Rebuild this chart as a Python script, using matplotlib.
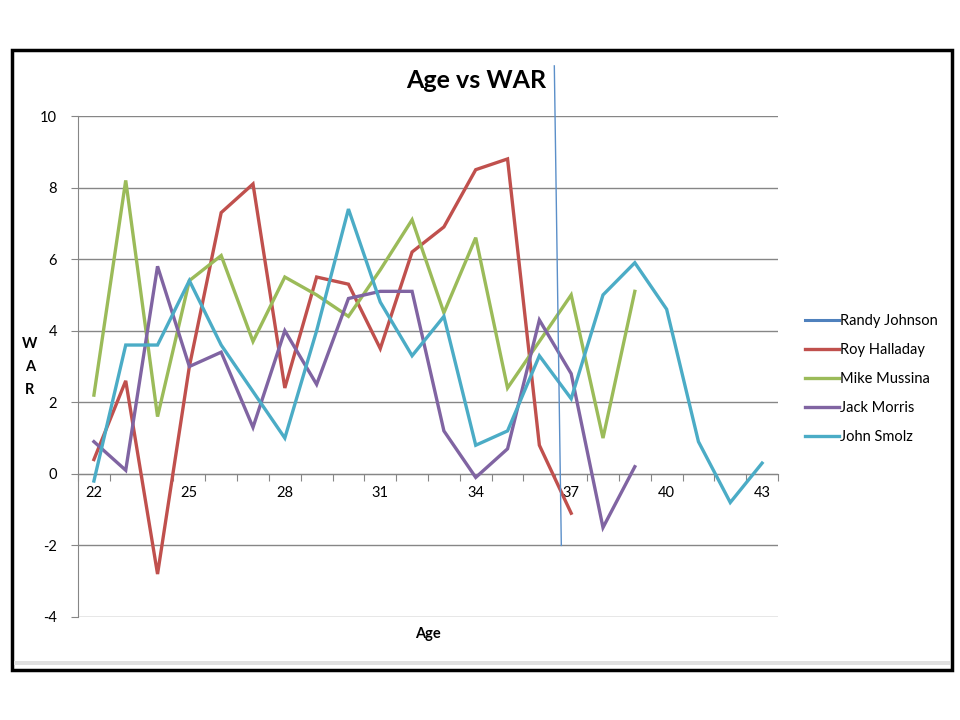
#!/usr/bin/env python

# plot.py
# Age vs WAR line chart, Excel style, five pitchers

import numpy as np
import matplotlib.pyplot as plt
from matplotlib.patches import Rectangle

# ages on the category axis
ages = list(range(22, 44))

# WAR by age (series stop where the career stops)
halladay = [0.4, 2.6, -2.8, 3.0, 7.3, 8.1, 2.4, 5.5, 5.3, 3.5, 6.2, 6.9, 8.5, 8.8, 0.8, -1.1]
mussina = [2.2, 8.2, 1.6, 5.4, 6.1, 3.7, 5.5, 5.0, 4.4, 5.7, 7.1, 4.5, 6.6, 2.4, 3.7, 5.0, 1.0, 5.1]
morris = [0.9, 0.1, 5.8, 3.0, 3.4, 1.3, 4.0, 2.5, 4.9, 5.1, 5.1, 1.2, -0.1, 0.7, 4.3, 2.8, -1.5, 0.2]
smoltz = [-0.2, 3.6, 3.6, 5.4, 3.6, 2.3, 1.0, 4.0, 7.4, 4.8, 3.3, 4.4, 0.8, 1.2, 3.3, 2.1, 5.0, 5.9,
          4.6, 0.9, -0.8, 0.3]

# the stray Randy Johnson series: one thin near-vertical stroke
rj_age = [36.47, 36.69]
rj_war = [11.4, -2.0]

names = ["Randy Johnson", "Roy Halladay", "Mike Mussina", "Jack Morris", "John Smolz"]
colors = ["#4F81BD", "#C0504D", "#9BBB59", "#8064A2", "#4BACC6"]

xticks_lab = [22, 25, 28, 31, 34, 37, 40, 43]
yticks = [-4, -2, 0, 2, 4, 6, 8, 10]

plt.rcParams['font.family'] = ['Lato', 'DejaVu Sans']
gray = "#868686"

fig = plt.figure(figsize=(9.6, 7.2), dpi=100)
ax = fig.add_axes([78/960, 1-617/720, 700/960, 501/720])

# the Randy Johnson stroke, runs past the top of the plot area
ax.plot(rj_age, rj_war, color="#5B8FC9", lw=1, clip_on=False, zorder=4)
ax.plot([], [], color=colors[0], lw=2.2, label=names[0])

series = [halladay, mussina, morris, smoltz]
for vals, name, col in zip(series, names[1:], colors[1:]):
    ax.plot(ages[:len(vals)], vals, color=col, lw=2.4, label=name, zorder=3,
            solid_joinstyle='miter')

ax.set_xlim(21.5, 43.5)
ax.set_ylim(-4, 10)
ax.set_yticks(yticks)
ax.set_yticklabels([str(v) for v in yticks], fontsize=10.5)
ax.grid(axis='y', color=gray, lw=1)
ax.set_axisbelow(True)

# category axis crosses at zero
for s in ['top', 'right']:
    ax.spines[s].set_visible(False)
ax.spines['bottom'].set_position(('data', 0))
ax.spines['bottom'].set_color(gray)
ax.spines['left'].set_color(gray)
ax.set_xticks(np.arange(21.5, 44.0, 1.0))
ax.set_xticklabels([])
ax.tick_params(axis='x', which='major', direction='out', length=5, color=gray)
ax.set_xticks(xticks_lab, minor=True)
ax.set_xticklabels([str(a) for a in xticks_lab], minor=True, fontsize=10.5)
ax.tick_params(axis='x', which='minor', length=0, pad=9)
ax.tick_params(axis='y', direction='out', length=5, color=gray, pad=10)

ax.set_xlabel("Age", fontsize=10.5, fontweight='bold', labelpad=0)
ax.xaxis.set_label_coords(0.5, -0.02)
fig.text(30/960, 1-367/720, "W\nA\nR", fontsize=10.5, fontweight='bold',
         ha='center', va='center', linespacing=1.8)
fig.text(476/960, 1-80/720, "Age vs WAR", fontsize=18, fontweight='bold',
         ha='center', va='center')

fig.legend(loc='center left', bbox_to_anchor=(792/960, 1-379/720), frameon=False,
           fontsize=10.5, handlelength=2.3, handletextpad=0.1, labelspacing=1.02)

# black frame around the chart and the grey strip at its foot
fig.patches.append(Rectangle((12/960, 1-670/720), 940/960, 620/720, transform=fig.transFigure,
                             fill=False, ec='black', lw=2.5))
fig.patches.append(Rectangle((14/960, 1-665/720), 936/960, 4/720, transform=fig.transFigure,
                             fc='#e0e0e0', ec='none'))

fig.savefig("out.png", dpi=100)
